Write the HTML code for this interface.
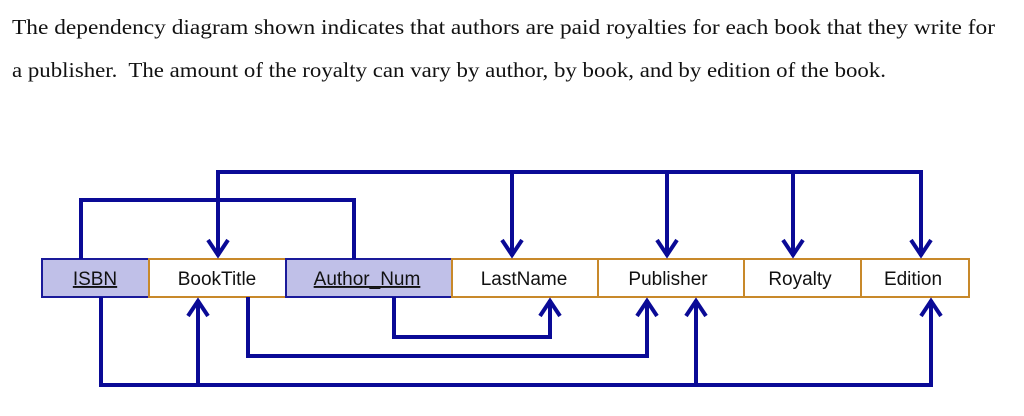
<!DOCTYPE html>
<html><head><style>
html,body{margin:0;padding:0;background:#fff;}
</style></head><body>
<svg width="1024" height="416" xmlns="http://www.w3.org/2000/svg" style="display:block">
<g font-family="Liberation Serif, serif" font-size="21" fill="#111">
<text x="12" y="34" textLength="983" lengthAdjust="spacingAndGlyphs">The dependency diagram shown indicates that authors are paid royalties for each book that they write for</text>
<text x="12" y="77" textLength="874" lengthAdjust="spacingAndGlyphs" xml:space="preserve">a publisher.  The amount of the royalty can vary by author, by book, and by edition of the book.</text>
</g>
<g stroke-width="2">
<rect x="42" y="259" width="107" height="38" fill="#c0c0e8" stroke="#1a1a9a"/>
<rect x="149" y="259" width="137" height="38" fill="#fff" stroke="#c8892a"/>
<rect x="286" y="259" width="166" height="38" fill="#c0c0e8" stroke="#1a1a9a"/>
<rect x="452" y="259" width="146" height="38" fill="#fff" stroke="#c8892a"/>
<rect x="598" y="259" width="146" height="38" fill="#fff" stroke="#c8892a"/>
<rect x="744" y="259" width="117" height="38" fill="#fff" stroke="#c8892a"/>
<rect x="861" y="259" width="108" height="38" fill="#fff" stroke="#c8892a"/>
</g>
<g font-family="Liberation Sans, sans-serif" font-size="19" fill="#111" text-anchor="middle">
<text x="95" y="285" text-decoration="underline">ISBN</text>
<text x="217" y="285">BookTitle</text>
<text x="367" y="285" text-decoration="underline">Author_Num</text>
<text x="524" y="285">LastName</text>
<text x="668" y="285">Publisher</text>
<text x="800" y="285">Royalty</text>
<text x="913" y="285">Edition</text>
</g>
<g fill="none" stroke="#0a0a96" stroke-width="4" stroke-linejoin="miter">
<polyline points="218,256 218,172 921,172 921,256"/>
<line x1="512" y1="172" x2="512" y2="256"/>
<line x1="667" y1="172" x2="667" y2="256"/>
<line x1="793" y1="172" x2="793" y2="256"/>
<polyline points="81,259 81,200 354,200 354,259"/>
<polyline points="101,297 101,385 931,385 931,300"/>
<line x1="198" y1="385" x2="198" y2="300"/>
<line x1="696" y1="385" x2="696" y2="300"/>
<polyline points="248,297 248,356 647,356 647,300"/>
<polyline points="394,297 394,337 550,337 550,300"/>
<!-- down arrowheads -->
<polyline points="208,240 218,255 228,240"/>
<polyline points="502,240 512,255 522,240"/>
<polyline points="657,240 667,255 677,240"/>
<polyline points="783,240 793,255 803,240"/>
<polyline points="911,240 921,255 931,240"/>
<!-- up arrowheads -->
<polyline points="188,316 198,301 208,316"/>
<polyline points="540,316 550,301 560,316"/>
<polyline points="637,316 647,301 657,316"/>
<polyline points="686,316 696,301 706,316"/>
<polyline points="921,316 931,301 941,316"/>
</g>
</svg>
</body></html>
